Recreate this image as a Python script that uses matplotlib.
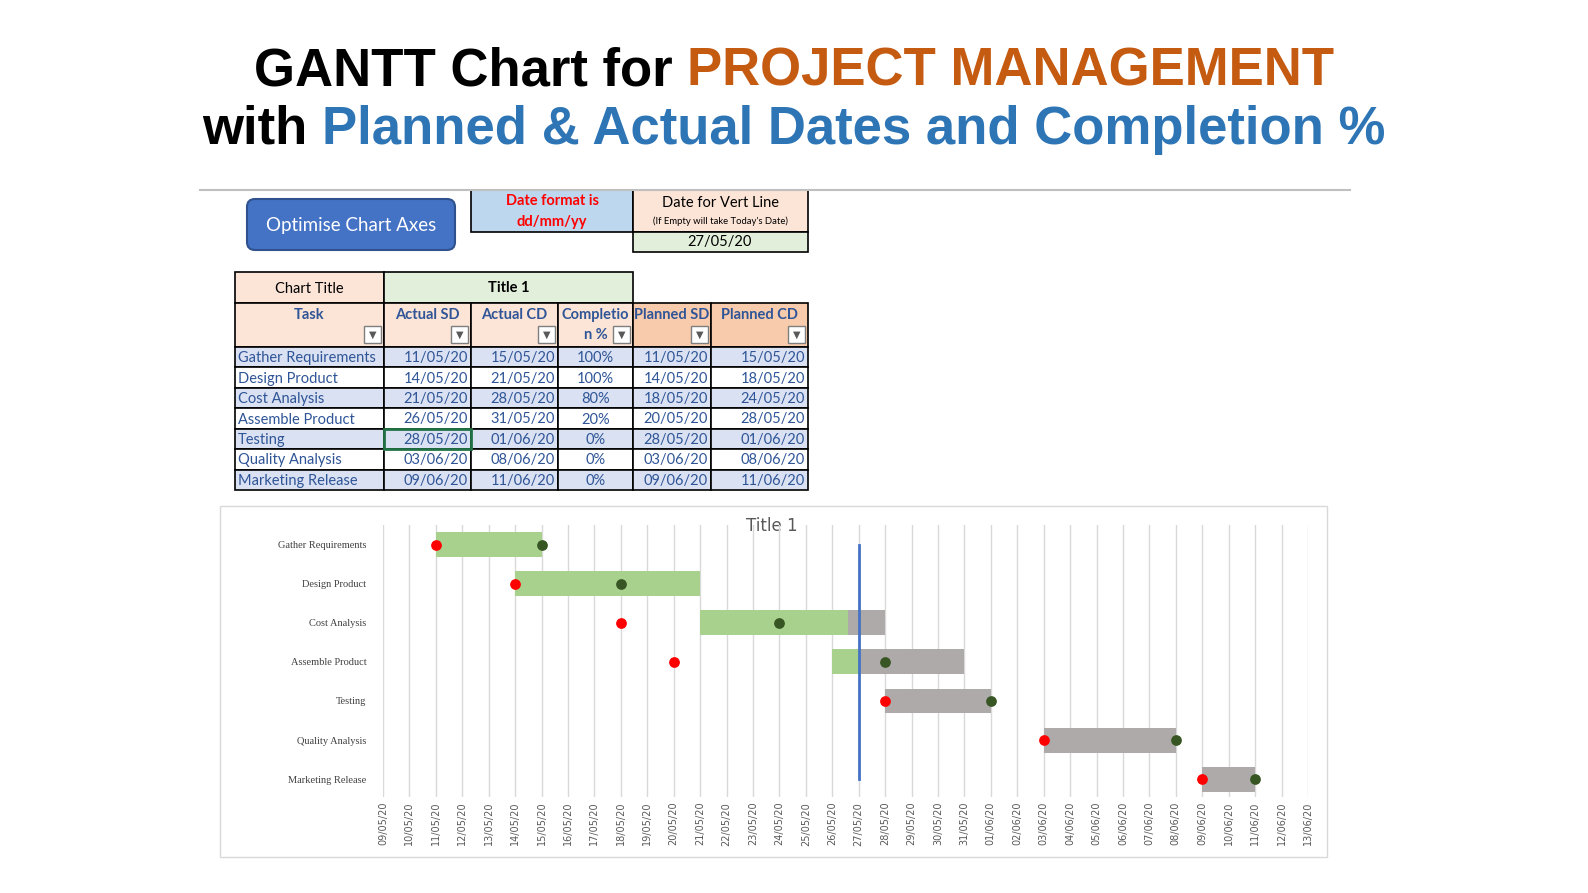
import matplotlib as mpl
mpl.use('Agg')
import matplotlib.pyplot as plt
import matplotlib.dates as mdates
from matplotlib.patches import Rectangle, FancyBboxPatch
from datetime import datetime

W, H = 1588, 893

tasks = ['Gather Requirements', 'Design Product', 'Cost Analysis', 'Assemble Product',
         'Testing', 'Quality Analysis', 'Marketing Release']
actual_sd = ['11/05/20', '14/05/20', '21/05/20', '26/05/20', '28/05/20', '03/06/20', '09/06/20']
actual_cd = ['15/05/20', '21/05/20', '28/05/20', '31/05/20', '01/06/20', '08/06/20', '11/06/20']
completion = [100, 100, 80, 20, 0, 0, 0]
planned_sd = ['11/05/20', '14/05/20', '18/05/20', '20/05/20', '28/05/20', '03/06/20', '09/06/20']
planned_cd = ['15/05/20', '18/05/20', '24/05/20', '28/05/20', '01/06/20', '08/06/20', '11/06/20']
vert_line = '27/05/20'
axis_start, axis_end = '09/05/20', '13/06/20'

TF = 'Lato'


def d(s):
    return datetime.strptime(s, '%d/%m/%y')


fig = plt.figure(figsize=(W / 100, H / 100), dpi=100)
bg = fig.add_axes([0, 0, 1, 1])
bg.set_xlim(0, W)
bg.set_ylim(H, 0)
bg.axis('off')

# ---- title (multi-coloured pieces) ----
fig.canvas.draw()
r = fig.canvas.get_renderer()
def colored_line(y, parts):
    texts = []
    for s, c in parts:
        texts.append(bg.text(0, y, s, color=c, fontsize=38, fontweight='bold',
                             family='Liberation Sans', va='center', ha='left'))
    widths = [t.get_window_extent(r).width for t in texts]
    x = (W - sum(widths)) / 2
    for t, w in zip(texts, widths):
        t.set_x(x)
        x += w
colored_line(72, [('GANTT Chart for ', 'black'), ('PROJECT MANAGEMENT', '#C55A11')])
colored_line(130, [('with ', 'black'), ('Planned & Actual Dates and Completion %', '#2E75B6')])

bg.plot([200, 1350], [190, 190], color='#BFBFBF', lw=1.5)

# ---- button + info boxes ----
bg.add_patch(FancyBboxPatch((247, 199), 208, 51, boxstyle='round,pad=0,rounding_size=8',
                            fc='#4472C4', ec='#2F528F', lw=1.5))
bg.text(351, 225, 'Optimise Chart Axes', color='white', fontsize=13.5, family=TF,
        ha='center', va='center')

def cell(x0, y0, x1, y1, fc, lw=1.2):
    bg.add_patch(Rectangle((x0, y0), x1 - x0, y1 - y0, fc=fc, ec='black', lw=lw))

def txt(x, y, s, **kw):
    kw.setdefault('fontsize', 10.5)
    kw.setdefault('va', 'center')
    bg.text(x, y, s, family=TF, **kw)

cell(471, 190, 633, 232, '#BDD7EE')
txt(552, 201, 'Date format is', color='#FF0000', fontweight='bold', ha='center')
txt(552, 222, 'dd/mm/yy', color='#FF0000', fontweight='bold', ha='center')
cell(633, 190, 808, 232, '#FCE4D6')
txt(720, 203, 'Date for Vert Line', ha='center')
txt(720, 221, "(If Empty will take Today's Date)", fontsize=6.8, ha='center')
cell(633, 232, 808, 252, '#E2EFDA')
txt(720, 242, vert_line, ha='center')

# ---- table ----
cols = [235, 384, 471, 558, 633, 711, 808]
cell(235, 272, 384, 303, '#FCE4D6')
txt(309, 289, 'Chart Title', ha='center')
cell(384, 272, 633, 303, '#E2EFDA')
txt(509, 288, 'Title 1', fontweight='bold', ha='center')
headers = ['Task', 'Actual SD', 'Actual CD', 'Completio', 'Planned SD', 'Planned CD']
hdr_fc = ['#FCE4D6'] * 4 + ['#F8CBAD'] * 2
for i, h in enumerate(headers):
    cell(cols[i], 303, cols[i + 1], 347, hdr_fc[i])
    txt((cols[i] + cols[i + 1]) / 2, 315, h, color='#2F5597', fontweight='bold', ha='center')
    bg.add_patch(Rectangle((cols[i + 1] - 20, 326), 17, 17, fc='white', ec='#7F7F7F', lw=1))
    bg.text(cols[i + 1] - 11.5, 335, '\u25BC', color='#595959', fontsize=7, ha='center', va='center')
txt(596, 335, 'n %', color='#2F5597', fontweight='bold', ha='center')

rh = (490 - 347) / 7
for k in range(7):
    y0 = 347 + k * rh
    fc = '#D9E1F2' if k % 2 == 0 else 'white'
    vals = [tasks[k], actual_sd[k], actual_cd[k], '%d%%' % completion[k], planned_sd[k], planned_cd[k]]
    for i, v in enumerate(vals):
        cell(cols[i], y0, cols[i + 1], y0 + rh, fc)
        yc = y0 + rh / 2 + 1
        if i == 0:
            txt(cols[i] + 3, yc, v, color='#2F5597')
        elif i == 3:
            txt((cols[i] + cols[i + 1]) / 2, yc, v, color='#2F5597', ha='center')
        else:
            txt(cols[i + 1] - 3, yc, v, color='#2F5597', ha='right')
bg.add_patch(Rectangle((384, 347 + 4 * rh), 87, rh, fc='none', ec='#217346', lw=2))

# ---- chart frame ----
bg.add_patch(Rectangle((220, 506), 1107, 351, fc='white', ec='#D9D9D9', lw=1))
bg.text(772, 526, 'Title 1', fontsize=12, color='#595959', ha='center', va='center')

ax = fig.add_axes([383 / W, 1 - 797 / H, (1308 - 383) / W, (797 - 525) / H])
x0, x1 = mdates.date2num(d(axis_start)), mdates.date2num(d(axis_end))
ax.set_xlim(x0, x1)
ax.set_ylim(6.46, -0.51)
ax.patch.set_alpha(0)
ax.xaxis.set_major_locator(mdates.DayLocator())
ax.xaxis.set_major_formatter(mdates.DateFormatter('%d/%m/%y'))
ax.tick_params(axis='x', labelrotation=90, labelsize=7, colors='#595959', length=0)
ax.tick_params(axis='y', length=0, labelsize=7.5, colors='#404040', pad=12)
ax.grid(axis='x', color='#D9D9D9', lw=1)
ax.set_axisbelow(True)
for s in ax.spines.values():
    s.set_visible(False)
ax.set_yticks(range(7))
ax.set_yticklabels(tasks, family='Liberation Serif')

for k in range(7):
    s, e = mdates.date2num(d(actual_sd[k])), mdates.date2num(d(actual_cd[k]))
    done = (e - s) * completion[k] / 100
    ax.barh(k, done, left=s, height=0.64, color='#A9D18E')
    ax.barh(k, (e - s) - done, left=s + done, height=0.64, color='#AEAAAA')
ax.scatter([mdates.date2num(d(v)) for v in planned_sd], range(7), color='#FF0000', s=45, zorder=3)
ax.scatter([mdates.date2num(d(v)) for v in planned_cd], range(7), color='#375623', s=45, zorder=3)
vl = mdates.date2num(d(vert_line))
ax.plot([vl, vl], [0, 6], color='#4472C4', lw=2, zorder=4)

fig.savefig('out.png', dpi=100)
